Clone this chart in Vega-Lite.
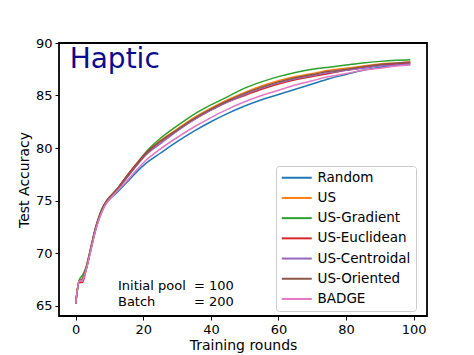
{
  "$schema": "https://vega.github.io/schema/vega-lite/v6.json",
  "width": 368,
  "height": 273,
  "autosize": "none",
  "padding": {"left": 59, "top": 43, "right": 47, "bottom": 39},
  "background": "white",
  "config": {
    "font": "DejaVu Sans",
    "view": {"stroke": "black", "strokeWidth": 1.8},
    "axis": {"domain": false, "grid": false, "tickColor": "black", "tickSize": 4, "tickWidth": 1,
      "labelFont": "DejaVu Sans", "labelFontSize": 13, "labelColor": "black", "labelPadding": 3,
      "titleFont": "DejaVu Sans", "titleFontSize": 14, "titleFontWeight": "normal", "titleColor": "black"}
  },
  "datasets": {
    "acc": [
      {"method":"Random","round":0,"acc":65.2},{"method":"Random","round":1,"acc":67.3},{"method":"Random","round":2,"acc":67.4},{"method":"Random","round":3,"acc":68.3},{"method":"Random","round":4,"acc":69.6},{"method":"Random","round":5,"acc":71.0},{"method":"Random","round":6,"acc":72.3},{"method":"Random","round":7,"acc":73.3},{"method":"Random","round":8,"acc":74.1},{"method":"Random","round":9,"acc":74.7},{"method":"Random","round":10,"acc":75.1},{"method":"Random","round":12,"acc":75.7},{"method":"Random","round":15,"acc":76.7},{"method":"Random","round":18,"acc":77.7},{"method":"Random","round":21,"acc":78.6},{"method":"Random","round":25,"acc":79.5},{"method":"Random","round":30,"acc":80.6},{"method":"Random","round":35,"acc":81.6},{"method":"Random","round":40,"acc":82.5},{"method":"Random","round":45,"acc":83.3},{"method":"Random","round":50,"acc":84.0},{"method":"Random","round":55,"acc":84.6},{"method":"Random","round":60,"acc":85.1},{"method":"Random","round":65,"acc":85.6},{"method":"Random","round":70,"acc":86.1},{"method":"Random","round":75,"acc":86.6},{"method":"Random","round":80,"acc":87.0},{"method":"Random","round":85,"acc":87.4},{"method":"Random","round":90,"acc":87.7},{"method":"Random","round":95,"acc":87.9},{"method":"Random","round":99,"acc":88.0},

      {"method":"US","round":0,"acc":65.2},{"method":"US","round":1,"acc":67.3},{"method":"US","round":2,"acc":67.6},{"method":"US","round":3,"acc":68.5},{"method":"US","round":4,"acc":69.8},{"method":"US","round":5,"acc":71.2},{"method":"US","round":6,"acc":72.5},{"method":"US","round":7,"acc":73.5},{"method":"US","round":8,"acc":74.3},{"method":"US","round":9,"acc":74.9},{"method":"US","round":10,"acc":75.3},{"method":"US","round":12,"acc":76.0},{"method":"US","round":15,"acc":77.2},{"method":"US","round":18,"acc":78.4},{"method":"US","round":21,"acc":79.6},{"method":"US","round":25,"acc":80.7},{"method":"US","round":30,"acc":81.8},{"method":"US","round":35,"acc":82.9},{"method":"US","round":40,"acc":83.8},{"method":"US","round":45,"acc":84.6},{"method":"US","round":50,"acc":85.3},{"method":"US","round":55,"acc":85.9},{"method":"US","round":60,"acc":86.4},{"method":"US","round":65,"acc":86.8},{"method":"US","round":70,"acc":87.1},{"method":"US","round":75,"acc":87.4},{"method":"US","round":80,"acc":87.6},{"method":"US","round":85,"acc":87.8},{"method":"US","round":90,"acc":88.0},{"method":"US","round":95,"acc":88.1},{"method":"US","round":99,"acc":88.2},

      {"method":"US-Gradient","round":0,"acc":65.2},{"method":"US-Gradient","round":1,"acc":67.4},{"method":"US-Gradient","round":2,"acc":67.9},{"method":"US-Gradient","round":3,"acc":68.6},{"method":"US-Gradient","round":4,"acc":69.9},{"method":"US-Gradient","round":5,"acc":71.3},{"method":"US-Gradient","round":6,"acc":72.6},{"method":"US-Gradient","round":7,"acc":73.6},{"method":"US-Gradient","round":8,"acc":74.4},{"method":"US-Gradient","round":9,"acc":74.9},{"method":"US-Gradient","round":10,"acc":75.3},{"method":"US-Gradient","round":12,"acc":76.0},{"method":"US-Gradient","round":15,"acc":77.3},{"method":"US-Gradient","round":18,"acc":78.5},{"method":"US-Gradient","round":21,"acc":79.7},{"method":"US-Gradient","round":25,"acc":80.9},{"method":"US-Gradient","round":30,"acc":82.1},{"method":"US-Gradient","round":35,"acc":83.2},{"method":"US-Gradient","round":40,"acc":84.1},{"method":"US-Gradient","round":45,"acc":84.9},{"method":"US-Gradient","round":50,"acc":85.7},{"method":"US-Gradient","round":55,"acc":86.3},{"method":"US-Gradient","round":60,"acc":86.8},{"method":"US-Gradient","round":65,"acc":87.2},{"method":"US-Gradient","round":70,"acc":87.5},{"method":"US-Gradient","round":75,"acc":87.7},{"method":"US-Gradient","round":80,"acc":87.9},{"method":"US-Gradient","round":85,"acc":88.1},{"method":"US-Gradient","round":90,"acc":88.25},{"method":"US-Gradient","round":95,"acc":88.35},{"method":"US-Gradient","round":99,"acc":88.4},

      {"method":"US-Euclidean","round":0,"acc":65.2},{"method":"US-Euclidean","round":1,"acc":67.2},{"method":"US-Euclidean","round":2,"acc":67.2},{"method":"US-Euclidean","round":3,"acc":68.3},{"method":"US-Euclidean","round":4,"acc":69.7},{"method":"US-Euclidean","round":5,"acc":71.2},{"method":"US-Euclidean","round":6,"acc":72.5},{"method":"US-Euclidean","round":7,"acc":73.5},{"method":"US-Euclidean","round":8,"acc":74.3},{"method":"US-Euclidean","round":9,"acc":74.9},{"method":"US-Euclidean","round":10,"acc":75.3},{"method":"US-Euclidean","round":12,"acc":76.0},{"method":"US-Euclidean","round":15,"acc":77.3},{"method":"US-Euclidean","round":18,"acc":78.5},{"method":"US-Euclidean","round":21,"acc":79.6},{"method":"US-Euclidean","round":25,"acc":80.6},{"method":"US-Euclidean","round":30,"acc":81.7},{"method":"US-Euclidean","round":35,"acc":82.7},{"method":"US-Euclidean","round":40,"acc":83.6},{"method":"US-Euclidean","round":45,"acc":84.4},{"method":"US-Euclidean","round":50,"acc":85.0},{"method":"US-Euclidean","round":55,"acc":85.6},{"method":"US-Euclidean","round":60,"acc":86.1},{"method":"US-Euclidean","round":65,"acc":86.5},{"method":"US-Euclidean","round":70,"acc":86.8},{"method":"US-Euclidean","round":75,"acc":87.1},{"method":"US-Euclidean","round":80,"acc":87.4},{"method":"US-Euclidean","round":85,"acc":87.65},{"method":"US-Euclidean","round":90,"acc":87.9},{"method":"US-Euclidean","round":95,"acc":88.0},{"method":"US-Euclidean","round":99,"acc":88.1},

      {"method":"US-Centroidal","round":0,"acc":65.2},{"method":"US-Centroidal","round":1,"acc":67.3},{"method":"US-Centroidal","round":2,"acc":67.5},{"method":"US-Centroidal","round":3,"acc":68.4},{"method":"US-Centroidal","round":4,"acc":69.7},{"method":"US-Centroidal","round":5,"acc":71.1},{"method":"US-Centroidal","round":6,"acc":72.4},{"method":"US-Centroidal","round":7,"acc":73.4},{"method":"US-Centroidal","round":8,"acc":74.2},{"method":"US-Centroidal","round":9,"acc":74.8},{"method":"US-Centroidal","round":10,"acc":75.2},{"method":"US-Centroidal","round":12,"acc":75.9},{"method":"US-Centroidal","round":15,"acc":77.1},{"method":"US-Centroidal","round":18,"acc":78.3},{"method":"US-Centroidal","round":21,"acc":79.4},{"method":"US-Centroidal","round":25,"acc":80.4},{"method":"US-Centroidal","round":30,"acc":81.6},{"method":"US-Centroidal","round":35,"acc":82.7},{"method":"US-Centroidal","round":40,"acc":83.6},{"method":"US-Centroidal","round":45,"acc":84.4},{"method":"US-Centroidal","round":50,"acc":85.1},{"method":"US-Centroidal","round":55,"acc":85.7},{"method":"US-Centroidal","round":60,"acc":86.2},{"method":"US-Centroidal","round":65,"acc":86.6},{"method":"US-Centroidal","round":70,"acc":86.9},{"method":"US-Centroidal","round":75,"acc":87.2},{"method":"US-Centroidal","round":80,"acc":87.4},{"method":"US-Centroidal","round":85,"acc":87.6},{"method":"US-Centroidal","round":90,"acc":87.8},{"method":"US-Centroidal","round":95,"acc":87.9},{"method":"US-Centroidal","round":99,"acc":88.0},

      {"method":"US-Oriented","round":0,"acc":65.2},{"method":"US-Oriented","round":1,"acc":67.3},{"method":"US-Oriented","round":2,"acc":67.5},{"method":"US-Oriented","round":3,"acc":68.5},{"method":"US-Oriented","round":4,"acc":69.8},{"method":"US-Oriented","round":5,"acc":71.2},{"method":"US-Oriented","round":6,"acc":72.5},{"method":"US-Oriented","round":7,"acc":73.5},{"method":"US-Oriented","round":8,"acc":74.3},{"method":"US-Oriented","round":9,"acc":74.9},{"method":"US-Oriented","round":10,"acc":75.3},{"method":"US-Oriented","round":12,"acc":76.0},{"method":"US-Oriented","round":15,"acc":77.2},{"method":"US-Oriented","round":18,"acc":78.4},{"method":"US-Oriented","round":21,"acc":79.5},{"method":"US-Oriented","round":25,"acc":80.6},{"method":"US-Oriented","round":30,"acc":81.7},{"method":"US-Oriented","round":35,"acc":82.8},{"method":"US-Oriented","round":40,"acc":83.7},{"method":"US-Oriented","round":45,"acc":84.5},{"method":"US-Oriented","round":50,"acc":85.2},{"method":"US-Oriented","round":55,"acc":85.8},{"method":"US-Oriented","round":60,"acc":86.3},{"method":"US-Oriented","round":65,"acc":86.7},{"method":"US-Oriented","round":70,"acc":87.0},{"method":"US-Oriented","round":75,"acc":87.3},{"method":"US-Oriented","round":80,"acc":87.5},{"method":"US-Oriented","round":85,"acc":87.75},{"method":"US-Oriented","round":90,"acc":87.95},{"method":"US-Oriented","round":95,"acc":88.1},{"method":"US-Oriented","round":99,"acc":88.2},

      {"method":"BADGE","round":0,"acc":65.2},{"method":"BADGE","round":1,"acc":67.3},{"method":"BADGE","round":2,"acc":67.4},{"method":"BADGE","round":3,"acc":68.3},{"method":"BADGE","round":4,"acc":69.6},{"method":"BADGE","round":5,"acc":71.0},{"method":"BADGE","round":6,"acc":72.3},{"method":"BADGE","round":7,"acc":73.3},{"method":"BADGE","round":8,"acc":74.1},{"method":"BADGE","round":9,"acc":74.7},{"method":"BADGE","round":10,"acc":75.1},{"method":"BADGE","round":12,"acc":75.8},{"method":"BADGE","round":15,"acc":76.8},{"method":"BADGE","round":18,"acc":77.9},{"method":"BADGE","round":21,"acc":78.9},{"method":"BADGE","round":25,"acc":79.9},{"method":"BADGE","round":30,"acc":81.0},{"method":"BADGE","round":35,"acc":82.0},{"method":"BADGE","round":40,"acc":82.9},{"method":"BADGE","round":45,"acc":83.7},{"method":"BADGE","round":50,"acc":84.4},{"method":"BADGE","round":55,"acc":85.0},{"method":"BADGE","round":60,"acc":85.5},{"method":"BADGE","round":65,"acc":86.0},{"method":"BADGE","round":70,"acc":86.4},{"method":"BADGE","round":75,"acc":86.8},{"method":"BADGE","round":80,"acc":87.1},{"method":"BADGE","round":85,"acc":87.4},{"method":"BADGE","round":90,"acc":87.6},{"method":"BADGE","round":95,"acc":87.8},{"method":"BADGE","round":99,"acc":87.9}
    ]
  },
  "layer": [
    {
      "data": {"name": "acc"},
      "mark": {"type": "line", "strokeWidth": 1.5, "interpolate": "monotone", "clip": true},
      "encoding": {
        "x": {"field": "round", "type": "quantitative",
          "scale": {"domain": [-4.95, 103.95], "nice": false, "zero": false},
          "axis": {"values": [0, 20, 40, 60, 80, 100], "title": "Training rounds", "titlePadding": 2}},
        "y": {"field": "acc", "type": "quantitative",
          "scale": {"domain": [64, 90], "nice": false, "zero": false},
          "axis": {"values": [65, 70, 75, 80, 85, 90], "title": "Test Accuracy", "titlePadding": 4}},
        "color": {"field": "method", "type": "nominal",
          "scale": {"domain": ["Random", "US", "US-Gradient", "US-Euclidean", "US-Centroidal", "US-Oriented", "BADGE"],
            "range": ["#1f77b4", "#ff7f0e", "#2ca02c", "#d62728", "#9467bd", "#8c564b", "#e377c2"]},
          "legend": {"title": null, "orient": "none", "legendX": 217, "legendY": 123,
            "symbolType": "M-3,0H3", "symbolSize": 100, "symbolStrokeWidth": 2,
            "symbolOffset": 9, "labelOffset": 14, "labelFontSize": 13.5, "labelFont": "DejaVu Sans", "labelColor": "black",
            "rowPadding": 5.2, "padding": 5, "fillColor": "white", "strokeColor": "#cccccc", "cornerRadius": 3}},
        "order": {"field": "round", "type": "quantitative"}
      }
    },
    {
      "data": {"values": [{}]},
      "mark": {"type": "text", "text": "Haptic", "fontSize": 28, "color": "#0d0d8c", "align": "left", "baseline": "alphabetic", "font": "DejaVu Sans"},
      "encoding": {"x": {"datum": -1.8}, "y": {"datum": 87.6}}
    },
    {
      "data": {"values": [{}]},
      "mark": {"type": "text", "text": ["Initial pool", "Batch"], "fontSize": 13, "lineHeight": 15.5, "color": "black", "align": "left", "baseline": "alphabetic", "font": "DejaVu Sans"},
      "encoding": {"x": {"datum": 12.5}, "y": {"datum": 66.45}}
    },
    {
      "data": {"values": [{}]},
      "mark": {"type": "text", "text": ["= 100", "= 200"], "fontSize": 13, "lineHeight": 15.5, "color": "black", "align": "left", "baseline": "alphabetic", "font": "DejaVu Sans"},
      "encoding": {"x": {"datum": 35.0}, "y": {"datum": 66.45}}
    }
  ]
}
